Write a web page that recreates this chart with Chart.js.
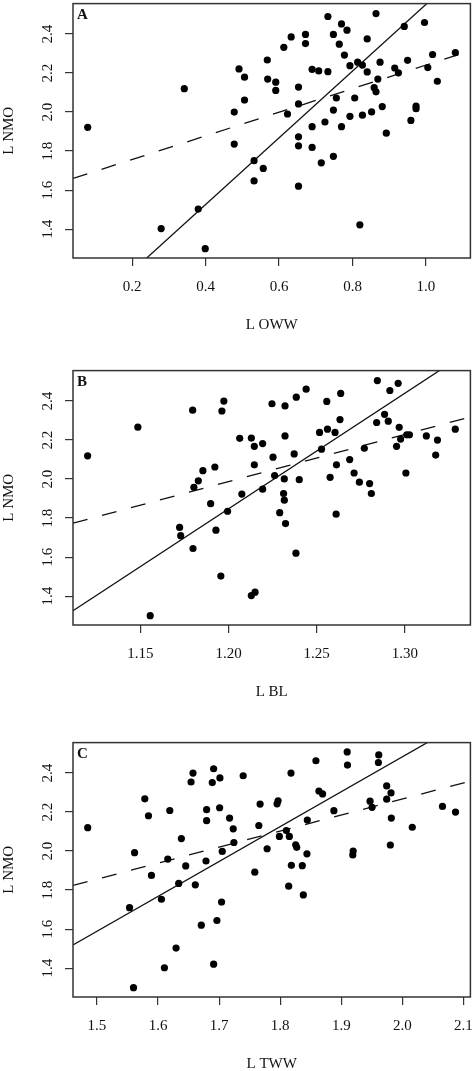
<!DOCTYPE html>
<html>
<head>
<meta charset="utf-8">
<script src="https://cdn.jsdelivr.net/npm/chart.js@4.4.0/dist/chart.umd.min.js"></script>
<style>
  html, body { margin: 0; padding: 0; background: #fff; overflow: hidden; }
  body { width: 474px; height: 1071px; position: relative; }
  canvas { position: absolute; left: 0; }
</style>
</head>
<body>
<canvas id="chartA" width="474" height="334" style="top:0px"></canvas>
<canvas id="chartB" width="474" height="334" style="top:367px"></canvas>
<canvas id="chartC" width="474" height="334" style="top:739px"></canvas>
<script>
// panel A: L OWW vs L NMO
var owwA = [0.079,0.279,0.342,0.380,0.399,0.478,0.478,0.491,0.506,0.506,0.532,0.532,0.557,0.568,0.569,0.591,0.591,0.613,0.633,0.623,
  0.653,0.653,0.653,0.653,0.653,0.672,0.672,0.690,0.690,0.690,0.708,0.715,0.725,0.733,0.733,0.748,0.748,0.748,0.756,0.764,
  0.770,0.770,0.778,0.785,0.793,0.793,0.806,0.814,0.820,0.827,0.827,0.840,0.840,0.852,0.859,0.864,0.864,0.869,0.875,0.881,
  0.892,0.915,0.925,0.941,0.950,0.959,0.973,0.973,0.996,1.005,1.018,1.031,1.080];
var nmoA = [1.922,1.403,2.120,1.503,1.300,2.000,1.836,2.221,2.179,2.062,1.751,1.647,1.711,2.267,2.169,2.153,2.111,2.332,2.385,1.990,
  2.128,2.042,1.873,1.827,1.620,2.398,2.351,2.219,1.925,1.819,2.211,1.740,1.949,2.490,2.207,2.398,2.010,1.773,2.072,2.348,
  2.452,1.925,2.292,2.420,2.238,1.978,2.072,2.256,1.422,2.241,1.984,2.375,2.206,2.001,2.125,2.104,2.505,2.169,2.256,2.028,
  1.892,2.226,2.201,2.439,2.265,1.957,2.030,2.017,2.459,2.228,2.295,2.158,2.305];

// panel B: L BL vs L NMO
var blB = [1.1200,1.1485,1.1555,1.1722,1.1728,1.1798,1.1796,1.1803,1.1828,1.1854,1.1898,1.1922,1.1928,1.1956,1.1962,1.1973,1.1994,1.2063,1.2075,1.2129,
  1.2129,1.2150,1.2146,1.2146,1.2193,1.2193,1.2246,1.2252,1.2261,1.2290,1.2312,1.2316,1.2316,1.2320,1.2320,1.2323,1.2372,1.2382,1.2384,1.2401,
  1.2440,1.2516,1.2527,1.2557,1.2561,1.2576,1.2604,1.2610,1.2612,1.2632,1.2636,1.2687,1.2712,1.2742,1.2770,1.2800,1.2810,1.2840,1.2844,1.2885,
  1.2906,1.2915,1.2953,1.2962,1.2968,1.2976,1.3006,1.3011,1.3026,1.3122,1.3175,1.3185,1.3286];
var nmoB = [2.119,2.266,1.300,1.752,1.710,1.644,2.353,1.958,1.991,2.043,1.874,2.062,1.738,1.503,2.349,2.400,1.835,2.209,1.923,2.210,
  1.403,1.420,2.168,2.073,2.182,1.948,2.386,2.112,2.018,1.828,1.926,1.892,2.001,2.375,2.221,1.772,2.129,1.620,2.420,1.997,
  2.461,2.239,2.153,2.398,2.256,2.009,2.239,1.820,2.073,2.305,2.439,2.100,2.031,1.984,2.158,1.977,1.926,2.290,2.505,2.332,
  2.297,2.454,2.168,2.491,2.265,2.205,2.031,2.227,2.227,2.221,2.123,2.200,2.256];

// panel C: L TWW vs L NMO
var twwC = [1.4848,1.5533,1.5598,1.5615,1.5783,1.5843,1.5892,1.6055,1.6104,1.6159,1.6192,1.6295,1.6338,1.6382,1.6453,1.6540,1.6572,1.6610,1.6708,1.6785,
  1.6795,1.6795,1.6888,1.6910,1.6910,1.6964,1.7008,1.7013,1.7051,1.7040,1.7171,1.7231,1.7242,1.7394,1.7584,1.7650,1.7671,1.7786,1.7949,1.7965,
  1.7987,1.8101,1.8139,1.8150,1.8177,1.8183,1.8254,1.8270,1.8362,1.8379,1.8438,1.8444,1.8585,1.8634,1.8694,1.8879,1.9097,1.9102,1.9195,1.9189,
  1.9472,1.9505,1.9614,1.9608,1.9744,1.9744,1.9815,1.9820,1.9804,2.0163,2.0658,2.0871];
var nmoC = [2.120,1.710,1.300,1.992,2.268,2.181,1.875,1.753,1.402,1.959,2.208,1.503,1.834,2.064,1.924,2.354,2.400,1.827,1.620,1.949,
  2.156,2.212,2.351,2.422,1.420,1.644,2.222,2.375,1.998,1.739,2.169,2.114,2.044,2.386,1.892,2.131,2.241,2.012,2.242,2.258,
  2.075,2.105,1.820,2.075,2.400,1.927,2.032,2.019,1.925,1.775,1.986,2.159,2.463,2.308,2.293,2.207,2.508,2.441,2.000,1.980,
  2.256,2.224,2.493,2.454,2.334,2.266,2.298,2.169,2.031,2.122,2.229,2.200];

var ticksOWW = [0.2, 0.4, 0.6, 0.8, 1.0];
var ticksBL = [1.15, 1.20, 1.25, 1.30];
var ticksTWW = [1.5, 1.6, 1.7, 1.8, 1.9, 2.0, 2.1];
var ticksNMO = [1.4, 1.6, 1.8, 2.0, 2.2, 2.4];

// fitted lines per panel (A, B, C): y = a + b*x
var solidIntercept = [0.842, -5.256, -1.093];
var solidSlope = [1.710, 5.920, 1.788];
var dashIntercept = [1.636, -0.912, 0.623];
var dashSlope = [0.605, 2.416, 0.822];

var serif = '"Liberation Serif", "DejaVu Serif", serif';

var framePlugin = {
  id: 'frame',
  afterDraw: function(chart, args, opts) {
    var a = chart.chartArea, ctx = chart.ctx;
    ctx.save();
    ctx.strokeStyle = '#333';
    ctx.lineWidth = 1.5;
    ctx.strokeRect(a.left, a.top, a.right - a.left, a.bottom - a.top);
    ctx.fillStyle = '#111';
    ctx.font = 'bold 15px ' + serif;
    ctx.textBaseline = 'alphabetic';
    ctx.fillText(opts.letter, a.left + 4, a.top + 15);
    ctx.restore();
  }
};

function toPoints(xs, ys) {
  return xs.map(function(x, i) { return {x: x, y: ys[i]}; });
}

function fitLine(a, b, x0, x1) {
  return [{x: x0, y: a + b * x0}, {x: x1, y: a + b * x1}];
}

function makeChart(id, xs, ys, xMin, xMax, xTicks, xDec, xTitle, letter, k) {
  var ctx = document.getElementById(id);
  return new Chart(ctx, {
    type: 'scatter',
    data: {
      datasets: [
        {
          data: toPoints(xs, ys),
          backgroundColor: '#000',
          borderWidth: 0,
          pointRadius: 3.6,
          pointHoverRadius: 3.6
        },
        {
          data: fitLine(solidIntercept[k], solidSlope[k], xMin, xMax),
          showLine: true,
          borderColor: '#111',
          borderWidth: 1.3,
          pointRadius: 0
        },
        {
          data: fitLine(dashIntercept[k], dashSlope[k], xMin, xMax),
          showLine: true,
          borderColor: '#111',
          borderWidth: 1.3,
          borderDash: [15, 15],
          pointRadius: 0
        }
      ]
    },
    options: {
      responsive: false,
      animation: false,
      events: [],
      layout: { padding: { top: 2, right: 2, left: 0, bottom: 0 } },
      plugins: {
        legend: { display: false },
        tooltip: { enabled: false },
        frame: { letter: letter }
      },
      scales: {
        x: {
          type: 'linear',
          min: xMin,
          max: xMax,
          afterBuildTicks: function(s) { s.ticks = xTicks.map(function(v) { return {value: v}; }); },
          afterFit: function(s) { s.height = 76; s.paddingLeft = 0; s.paddingRight = 0; },
          ticks: {
            autoSkip: false,
            maxRotation: 0,
            padding: 12,
            color: '#111',
            font: { family: serif, size: 15 },
            callback: function(v) { return Number(v).toFixed(xDec); }
          },
          grid: { drawOnChartArea: false, drawTicks: true, tickLength: 8, color: '#333', lineWidth: 1.2 },
          border: { display: false },
          title: { display: true, text: xTitle, color: '#111', font: { family: serif, size: 15 }, padding: { top: 0, bottom: 0 } }
        },
        y: {
          type: 'linear',
          min: 1.252,
          max: 2.556,
          afterBuildTicks: function(s) { s.ticks = ticksNMO.map(function(v) { return {value: v}; }); },
          afterFit: function(s) { s.width = 73; s.paddingTop = 0; s.paddingBottom = 0; },
          ticks: {
            autoSkip: false,
            minRotation: 90,
            maxRotation: 90,
            crossAlign: 'center',
            padding: 8,
            color: '#111',
            font: { family: serif, size: 15 },
            callback: function(v) { return Number(v).toFixed(1); }
          },
          grid: { drawOnChartArea: false, drawTicks: true, tickLength: 8, color: '#333', lineWidth: 1.2 },
          border: { display: false },
          title: { display: true, text: 'L NMO', color: '#111', font: { family: serif, size: 15 }, padding: { top: 0, bottom: 0 } }
        }
      }
    },
    plugins: [framePlugin]
  });
}

makeChart('chartA', owwA, nmoA, 0.039, 1.121, ticksOWW, 1, 'L OWW', 'A', 0);
makeChart('chartB', blB, nmoB, 1.1117, 1.3372, ticksBL, 2, 'L BL', 'B', 1);
makeChart('chartC', twwC, nmoC, 1.4607, 2.1115, ticksTWW, 1, 'L TWW', 'C', 2);
</script>
</body>
</html>
